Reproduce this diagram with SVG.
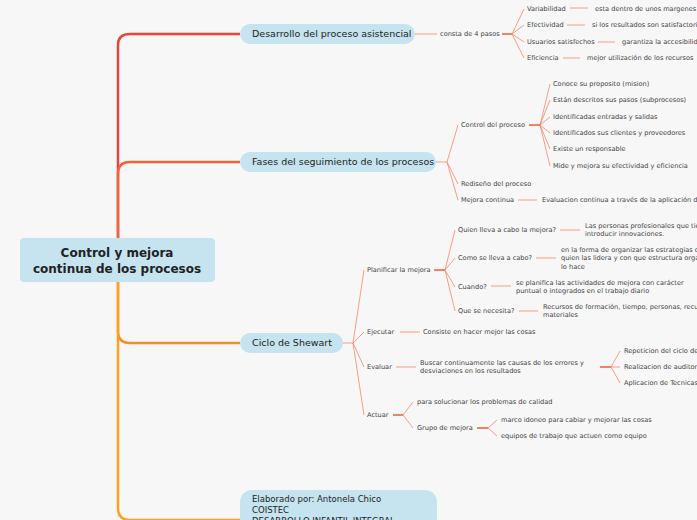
<svg xmlns="http://www.w3.org/2000/svg" width="697" height="520" viewBox="0 0 697 520">
<style>
text{font-family:"DejaVu Sans","Liberation Sans",sans-serif;fill:#444}
.s{font-size:6.6px}
.m{font-size:7px}
.n{font-size:9.5px;fill:#222}
.c{fill:none;stroke:#f4866a;stroke-width:0.8}
.t{fill:none;stroke:#f0643c;stroke-width:1.6}
.pill{fill:#c6e4ef}
</style>
<rect width="697" height="520" fill="#f7f7f7"/>
<g id="connectors">
<path d="M118 238 V45 Q118 34 130 34 H240" fill="none" stroke="#e8453c" stroke-width="2.5"/>
<path d="M118 238 V174 Q118 162 130 162 H240" fill="none" stroke="#f0643c" stroke-width="2.5"/>
<path d="M118 282 V331 Q118 343 130 343 H240" fill="none" stroke="#f78d1e" stroke-width="2.5"/>
<path d="M118 282 V508 Q118 520 130 520 H240" fill="none" stroke="#ffa11a" stroke-width="2.5"/>
<path class="c" d="M415 34 H437"/>
<path class="t" d="M502 34 H512"/>
<path class="c" d="M512 34 L524 9 M512 34 L524 25 M512 34 L524 42 M512 34 L524 58"/>
<path class="c" d="M570 8 H588 M567 25 H585 M598 42 H615 M563 58 H580"/>
<path class="c" d="M436 162 H447 M447 162 L458 125 M447 162 L458 184 M447 162 L458 200"/>
<path class="t" d="M529 125 H540"/>
<path class="c" d="M540 125 L550 84 M540 125 L550 100 M540 125 L550 117 M540 125 L550 133 M540 125 L550 149 M540 125 L550 166"/>
<path class="c" d="M518 200 H537"/>
<path class="c" d="M343 343 H353 M353 343 L364 270 M353 343 L364 332 M353 343 L364 367 M353 343 L364 415"/>
<path class="t" d="M434 270 H445"/>
<path class="c" d="M445 270 L455 230 M445 270 L455 258 M445 270 L455 287 M445 270 L455 311"/>
<path class="c" d="M560 230 H580 M536 258 H556 M491 286 H511 M519 311 H538 M400 332 H420 M396 367 H416"/>
<path class="t" d="M600 367 H611"/>
<path class="c" d="M611 367 L620 351 M611 367 L620 383 M611 367 H620"/>
<path class="t" d="M393 415 H403"/>
<path class="c" d="M403 415 L413 402 M403 415 L413 428"/>
<path class="t" d="M477 428 H488"/>
<path class="c" d="M488 428 L497 420 M488 428 L497 436"/>
</g>
<g id="central"><rect class="pill" x="20" y="238" width="195" height="44" rx="4"/>
<text x="117" y="257" text-anchor="middle" style="font-size:12px;font-weight:bold;fill:#222">Control y mejora</text>
<text x="117" y="273" text-anchor="middle" style="font-size:12px;font-weight:bold;fill:#222">continua de los procesos</text></g>
<g id="n1"><rect class="pill" x="240" y="24" width="175" height="20" rx="10"/><text class="n" x="252" y="37">Desarrollo del proceso asistencial</text>
<text class="s" x="440" y="36">consta de 4 pasos</text>
<text class="s" x="527" y="11">Variabilidad</text><text class="s" x="595" y="11">esta dentro de unos margenes a</text>
<text class="s" x="527" y="27">Efectividad</text><text class="s" x="592" y="27">si los resultados son satisfactorios</text>
<text class="s" x="527" y="44">Usuarios satisfechos</text><text class="s" x="622" y="44">garantiza la accesibilidad</text>
<text class="s" x="527" y="60">Eficiencia</text><text class="s" x="587" y="60">mejor utilización de los recursos</text></g>
<g id="n2"><rect class="pill" x="240" y="152" width="196" height="20" rx="10"/><text class="n" x="252" y="165">Fases del seguimiento de los procesos</text>
<text class="s" x="461" y="127">Control del proceso</text>
<text class="s" x="553" y="86">Conoce su proposito (mision)</text>
<text class="s" x="553" y="102">Están descritos sus pasos (subprocesos)</text>
<text class="s" x="553" y="119">Identificadas entradas y salidas</text>
<text class="s" x="553" y="135">Identificados sus clientes y proveedores</text>
<text class="s" x="553" y="151">Existe un responsable</text>
<text class="s" x="553" y="168">Mide y mejora su efectividad y eficiencia</text>
<text class="s" x="461" y="186">Rediseño del proceso</text>
<text class="s" x="461" y="202">Mejora continua</text>
<text class="s" x="542" y="202">Evaluacion continua a través de la aplicación de</text></g>
<g id="n3"><rect class="pill" x="240" y="333" width="103" height="20" rx="10"/><text class="n" x="252" y="346">Ciclo de Shewart</text>
<text class="s" x="367" y="272">Planificar la mejora</text>
<text class="s" x="458" y="232">Quien lleva a cabo la mejora?</text>
<text class="s" x="585" y="228">Las personas profesionales que tienen</text><text class="s" x="585" y="236">introducir innovaciones.</text>
<text class="s" x="458" y="260">Como se lleva a cabo?</text>
<text class="s" x="561" y="252">en la forma de organizar las estrategias de</text><text class="s" x="561" y="260">quien las lidera y con que estructura organizativa</text><text class="s" x="561" y="269">lo hace</text>
<text class="s" x="458" y="289">Cuando?</text>
<text class="s" x="516" y="285">se planifica las actividades de mejora con carácter</text><text class="s" x="516" y="293">puntual o integrados en el trabajo diario</text>
<text class="s" x="458" y="313">Que se necesita?</text>
<text class="s" x="543" y="309">Recursos de formación, tiempo, personas, recursos</text><text class="s" x="543" y="317">materiales</text>
<text class="s" x="367" y="334">Ejecutar</text><text class="s" x="423" y="334">Consiste en hacer mejor las cosas</text>
<text class="s" x="367" y="369">Evaluar</text>
<text class="s" x="420" y="365">Buscar continuamente las causas de los errores y</text><text class="s" x="420" y="373">desviaciones en los resultados</text>
<text class="s" x="624" y="353">Repeticion del ciclo de</text>
<text class="s" x="624" y="369">Realizacion de auditorias</text>
<text class="s" x="624" y="385">Aplicacion de Tecnicas</text>
<text class="s" x="367" y="417">Actuar</text>
<text class="s" x="417" y="404">para solucionar los problemas de calidad</text>
<text class="s" x="417" y="430">Grupo de mejora</text>
<text class="s" x="501" y="422">marco idoneo para cabiar y mejorar las cosas</text>
<text class="s" x="501" y="438">equipos de trabajo que actuen como equipo</text></g>
<g id="n4"><rect class="pill" x="240" y="490" width="197" height="45" rx="12"/>
<text class="n" x="252" y="502" style="font-size:8.5px">Elaborado por: Antonela Chico</text>
<text class="n" x="252" y="513" style="font-size:8.5px">COISTEC</text>
<text class="n" x="252" y="524" style="font-size:8.5px">DESARROLLO INFANTIL INTEGRAL</text></g>
</svg>
